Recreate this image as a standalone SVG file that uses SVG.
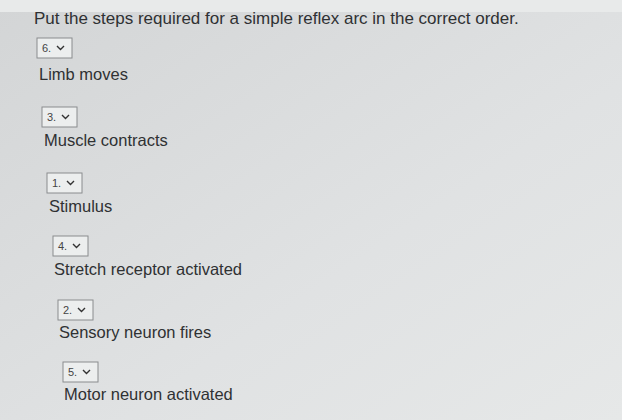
<svg xmlns="http://www.w3.org/2000/svg" width="622" height="420" viewBox="0 0 622 420">
<defs>
<linearGradient id="bg" x1="0" y1="0" x2="1" y2="1">
<stop offset="0" stop-color="#d3d5d6"/><stop offset="0.6" stop-color="#e0e2e3"/><stop offset="1" stop-color="#e6e8e8"/>
</linearGradient>
<style>
text{font-family:"Liberation Sans",Arial,sans-serif;fill:#2f3133}
.lbl{font-size:16.5px}
.sel{fill:#eceeee;stroke:#8a8c8e;stroke-width:1}
.num{font-size:11px;fill:#444}
.chev{fill:none;stroke:#333;stroke-width:1.4}
</style>
</defs>
<rect width="622" height="420" fill="url(#bg)"/>
<rect width="622" height="12" fill="#e8eaea"/>
<text x="34" y="24" style="font-size:17px">Put the steps required for a simple reflex arc in the correct order.</text>
<g id="n6"><rect class="sel" x="37" y="38" width="35" height="20"/><text class="num" x="42" y="52">6.</text><path class="chev" d="M57 46l3.5 3.5 3.5-3.5"/><text class="lbl" x="39" y="80">Limb moves</text></g>
<g id="n3"><rect class="sel" x="42" y="107" width="35" height="20"/><text class="num" x="47" y="121">3.</text><path class="chev" d="M62 115l3.5 3.5 3.5-3.5"/><text class="lbl" x="44" y="146">Muscle contracts</text></g>
<g id="n1"><rect class="sel" x="47" y="173" width="35" height="20"/><text class="num" x="52" y="187">1.</text><path class="chev" d="M67 181l3.5 3.5 3.5-3.5"/><text class="lbl" x="49" y="212">Stimulus</text></g>
<g id="n4"><rect class="sel" x="53" y="236" width="35" height="20"/><text class="num" x="58" y="250">4.</text><path class="chev" d="M73 244l3.5 3.5 3.5-3.5"/><text class="lbl" x="54" y="275">Stretch receptor activated</text></g>
<g id="n2"><rect class="sel" x="58" y="300" width="35" height="20"/><text class="num" x="63" y="314">2.</text><path class="chev" d="M78 308l3.5 3.5 3.5-3.5"/><text class="lbl" x="59" y="338">Sensory neuron fires</text></g>
<g id="n5"><rect class="sel" x="63" y="362" width="35" height="20"/><text class="num" x="68" y="376">5.</text><path class="chev" d="M83 370l3.5 3.5 3.5-3.5"/><text class="lbl" x="64" y="400">Motor neuron activated</text></g>
<g id="connectors"/>
</svg>
